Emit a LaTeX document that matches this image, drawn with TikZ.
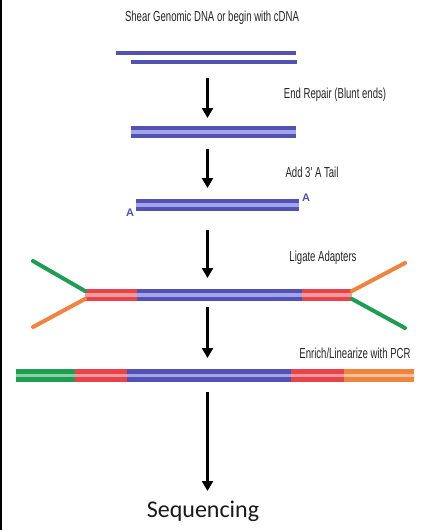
\documentclass[tikz,border=0pt]{standalone}
\usepackage{fontspec}
\usepackage{graphicx}
\usetikzlibrary{arrows.meta}
\newfontfamily\labfont{Liberation Sans}
\newfontfamily\seqfont{Carlito}
\definecolor{dnablue}{HTML}{5252B2}
\definecolor{dnalight}{HTML}{A4A4EC}
\definecolor{adred}{HTML}{E8434B}
\definecolor{adredl}{HTML}{F49A9E}
\definecolor{adgreen}{HTML}{1E9E52}
\definecolor{adgreenl}{HTML}{86D2A2}
\definecolor{adorange}{HTML}{F0843E}
\definecolor{adorangel}{HTML}{F8C29C}
\definecolor{labgray}{HTML}{262626}
\newcommand\steplabel[1]{\scalebox{0.66}[1]{\fontsize{14.5}{16}\labfont #1}}
\tikzset{
  strand/.style={line width=4.5pt, color=dnablue},
  gapline/.style={line width=4pt, color=#1},
  arm/.style={line width=4pt, color=#1},
  flowarrow/.style={line width=2.6pt, -{Triangle[width=11pt,length=10pt]}},
  steptext/.style={text=labgray, inner sep=0pt},
  aletter/.style={text=dnablue, font=\labfont\bfseries\fontsize{11}{12}\selectfont, inner sep=0pt}
}
\begin{document}
\begin{tikzpicture}[x=1pt,y=-1pt]
\useasboundingbox (0,0) rectangle (433,530);
\fill[white] (0,0) rectangle (433,530);
\draw[line width=1.6pt, black] (0.8,0) -- (0.8,530);

% labels
\node[steptext] (t1) at (212,18) {\steplabel{Shear Genomic DNA or begin with cDNA}};
\node[steptext] (t2) at (335,95) {\steplabel{End Repair (Blunt ends)}};
\node[steptext] (t3) at (312,172) {\steplabel{Add 3' A Tail}};
\node[steptext] (t4) at (323,258) {\steplabel{Ligate Adapters}};
\node[steptext] (t5) at (355,353) {\steplabel{Enrich/Linearize with PCR}};
\node[text=black!90, inner sep=0pt, font=\seqfont\fontsize{24}{28}\selectfont] (seq) at (203,511) {Sequencing};

% strand 1: sheared
\draw[strand] (116,53) -- (296,53);
\draw[strand] (131,62) -- (297,62);

% strand 2: blunt
\draw[gapline=dnalight] (131,132) -- (296,132);
\draw[strand] (131,128) -- (296,128);
\draw[strand] (131,136) -- (296,136);

% strand 3: A tail
\draw[gapline=dnalight] (136,205) -- (299,205);
\draw[strand] (136,201) -- (299,201);
\draw[strand] (136,209) -- (299,209);
\node[aletter] (ar) at (306,198) {A};
\node[aletter] (al) at (130,213) {A};

% strand 4: adapters ligated
\draw[gapline=adredl] (85,295) -- (137,295);
\draw[gapline=dnalight] (137,295) -- (302,295);
\draw[gapline=adredl] (302,295) -- (352,295);
\foreach \yy in {291,299}{
  \draw[line width=4.5pt, adred] (85,\yy) -- (137,\yy);
  \draw[line width=4.5pt, dnablue] (137,\yy) -- (302,\yy);
  \draw[line width=4.5pt, adred] (302,\yy) -- (352,\yy);
}
\draw[arm=adgreen, line cap=round] (33,261) -- (85,291);
\draw[arm=adorange, line cap=round] (85,299) -- (33,327);
\draw[arm=adorange, line cap=round] (352,291) -- (405,263);
\draw[arm=adgreen, line cap=round] (352,299) -- (405,328);

% strand 5: linear
\draw[gapline=adgreenl] (16,375.5) -- (75,375.5);
\draw[gapline=adredl] (75,375.5) -- (127,375.5);
\draw[gapline=dnalight] (127,375.5) -- (291,375.5);
\draw[gapline=adredl] (291,375.5) -- (344,375.5);
\draw[gapline=adorangel] (344,375.5) -- (414,375.5);
\foreach \yy in {371.5,379.5}{
  \draw[line width=4.5pt, adgreen] (16,\yy) -- (75,\yy);
  \draw[line width=4.5pt, adred] (75,\yy) -- (127,\yy);
  \draw[line width=4.5pt, dnablue] (127,\yy) -- (291,\yy);
  \draw[line width=4.5pt, adred] (291,\yy) -- (344,\yy);
  \draw[line width=4.5pt, adorange] (344,\yy) -- (414,\yy);
}

% arrows
\coordinate (a1s) at (207.5,78);  \coordinate (a1e) at (207.5,118);
\coordinate (a2s) at (207.5,149); \coordinate (a2e) at (207.5,188);
\coordinate (a3s) at (207.5,230); \coordinate (a3e) at (207.5,278);
\coordinate (a4s) at (207.5,307); \coordinate (a4e) at (207.5,358);
\coordinate (a5s) at (207.5,392); \coordinate (a5e) at (207.5,491);
\draw[flowarrow] (a1s) -- (a1e);
\draw[flowarrow] (a2s) -- (a2e);
\draw[flowarrow] (a3s) -- (a3e);
\draw[flowarrow] (a4s) -- (a4e);
\draw[flowarrow] (a5s) -- (a5e);
\end{tikzpicture}
\end{document}
